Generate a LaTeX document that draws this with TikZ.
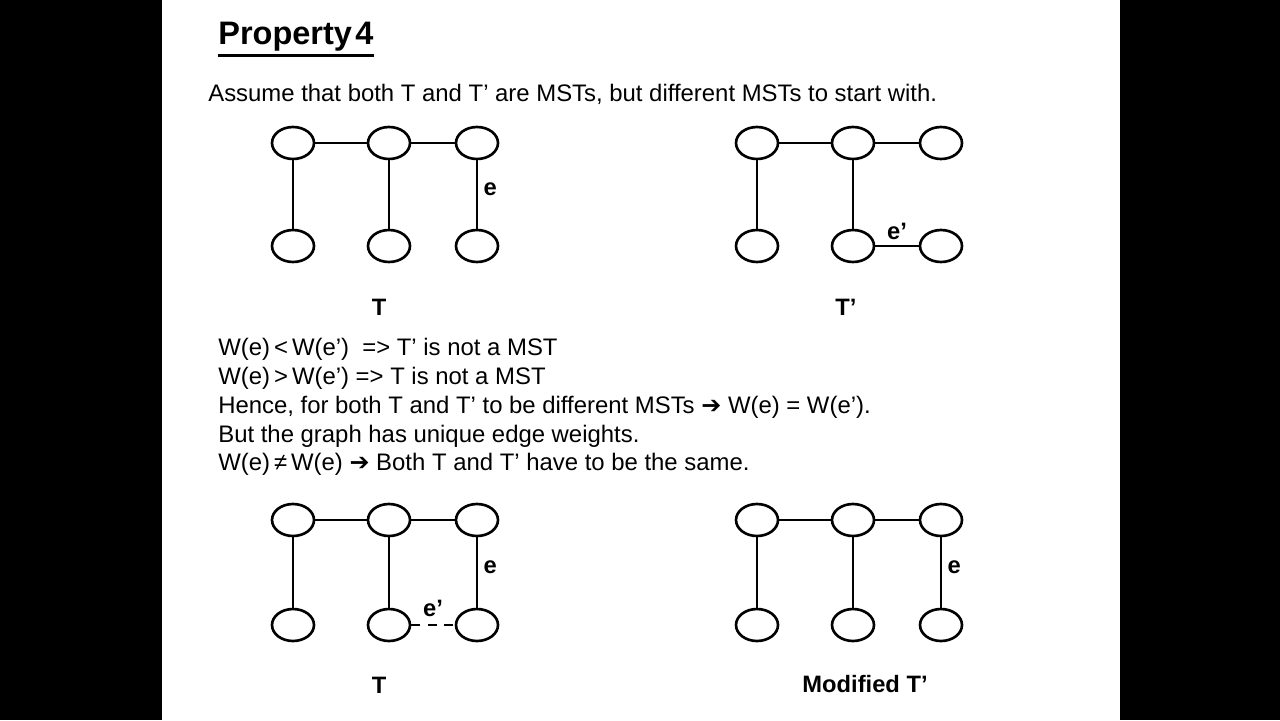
\documentclass[tikz,border=0pt]{standalone}
\usepackage{fontspec}
\setmainfont{Liberation Sans}
\newfontfamily\symfont{DejaVu Sans}
\newcommand{\bigarrow}{{\symfont\bfseries ➔}}
\usetikzlibrary{shapes.geometric, positioning}

\begin{document}
\begin{tikzpicture}[
    x=0.02cm, y=-0.02cm,
    vtx/.style = {ellipse, draw=black, line width=1.5pt, fill=white,
                  minimum width=0.84cm, minimum height=0.64cm, inner sep=0pt},
    edge/.style = {line width=1.6pt, black},
    missing/.style = {edge, dash pattern=on 0.18cm off 0.15cm},
    txt/.style = {font=\fontsize{13.6}{16.4}\selectfont, inner sep=0pt},
    lbl/.style = {font=\fontsize{13.5}{16.4}\selectfont\bfseries, inner sep=3pt},
    caption/.style = {font=\fontsize{13.5}{16.4}\selectfont\bfseries, inner sep=0pt}
]
    \useasboundingbox (0,0) rectangle (1280,720);
    \fill[white] (0,0) rectangle (1280,720);
    \fill[black] (0,0) rectangle (162,720);
    \fill[black] (1120,0) rectangle (1280,720);

    % Title
    \node[font=\fontsize{18.5}{22}\selectfont\bfseries, inner sep=0pt, anchor=west] (title) at (218,37) {Property\hspace{0.1em}4};
    \draw[line width=1.5pt] ([yshift=-2pt]title.south west) -- ([yshift=-2pt]title.south east);

    \node[txt, anchor=west] (assume) at (208,94) {Assume that both T and T’ are MSTs, but different MSTs to start with.};

    % TREE T
    \node[vtx] (t_top1) at (293,143) {};
    \node[vtx] (t_top2) at (389,143) {};
    \node[vtx] (t_top3) at (477,143) {};
    \node[vtx] (t_bot1) at (293,246) {};
    \node[vtx] (t_bot2) at (389,246) {};
    \node[vtx] (t_bot3) at (477,246) {};
    \node[caption] (t_name) at (379,307) {T};

    \draw[edge] (t_top1) -- (t_top2);
    \draw[edge] (t_top2) -- (t_top3);
    \draw[edge] (t_top1) -- (t_bot1);
    \draw[edge] (t_top2) -- (t_bot2);
    \draw[edge] (t_top3) -- node[lbl, right, yshift=3pt] {e} (t_bot3);

    % TREE T'
    \node[vtx] (p_top1) at (757,143) {};
    \node[vtx] (p_top2) at (853,143) {};
    \node[vtx] (p_top3) at (941,143) {};
    \node[vtx] (p_bot1) at (757,246) {};
    \node[vtx] (p_bot2) at (853,246) {};
    \node[vtx] (p_bot3) at (941,246) {};
    \node[caption] (p_name) at (846,307) {T’};

    \draw[edge] (p_top1) -- (p_top2);
    \draw[edge] (p_top2) -- (p_top3);
    \draw[edge] (p_top1) -- (p_bot1);
    \draw[edge] (p_top2) -- (p_bot2);
    \draw[edge] (p_bot2) -- node[lbl, above] {e’} (p_bot3);

    % REASONING
    \node[txt, anchor=north west, align=left,
          font=\fontsize{13.6}{16.4}\selectfont] (reason) at (218,338) {
        W(e)\,<\,W(e’) \ => T’ is not a MST\\
        W(e)\,>\,W(e’) => T is not a MST\\
        Hence, for both T and T’ to be different MSTs \bigarrow{} W(e) = W(e’).\\
        But the graph has unique edge weights.\\
        W(e)\,≠\,W(e) \bigarrow{} Both T and T’ have to be the same.
    };

    % TREE T WITH e'
    \node[vtx] (u_top1) at (293,520) {};
    \node[vtx] (u_top2) at (389,520) {};
    \node[vtx] (u_top3) at (477,520) {};
    \node[vtx] (u_bot1) at (293,625) {};
    \node[vtx] (u_bot2) at (389,625) {};
    \node[vtx] (u_bot3) at (477,625) {};
    \node[caption] (u_name) at (379,685) {T};

    \draw[edge] (u_top1) -- (u_top2);
    \draw[edge] (u_top2) -- (u_top3);
    \draw[edge] (u_top1) -- (u_bot1);
    \draw[edge] (u_top2) -- (u_bot2);
    \draw[edge] (u_top3) -- node[lbl, right, yshift=3pt] {e} (u_bot3);
    \draw[missing] (u_bot2) -- node[lbl, above, yshift=1pt] {e’} (u_bot3);

    % MODIFIED T'
    \node[vtx] (m_top1) at (757,520) {};
    \node[vtx] (m_top2) at (853,520) {};
    \node[vtx] (m_top3) at (941,520) {};
    \node[vtx] (m_bot1) at (757,625) {};
    \node[vtx] (m_bot2) at (853,625) {};
    \node[vtx] (m_bot3) at (941,625) {};
    \node[caption] (m_name) at (865,684) {Modified T’};

    \draw[edge] (m_top1) -- (m_top2);
    \draw[edge] (m_top2) -- (m_top3);
    \draw[edge] (m_top1) -- (m_bot1);
    \draw[edge] (m_top2) -- (m_bot2);
    \draw[edge] (m_top3) -- node[lbl, right, yshift=3pt] {e} (m_bot3);

\end{tikzpicture}
\end{document}
